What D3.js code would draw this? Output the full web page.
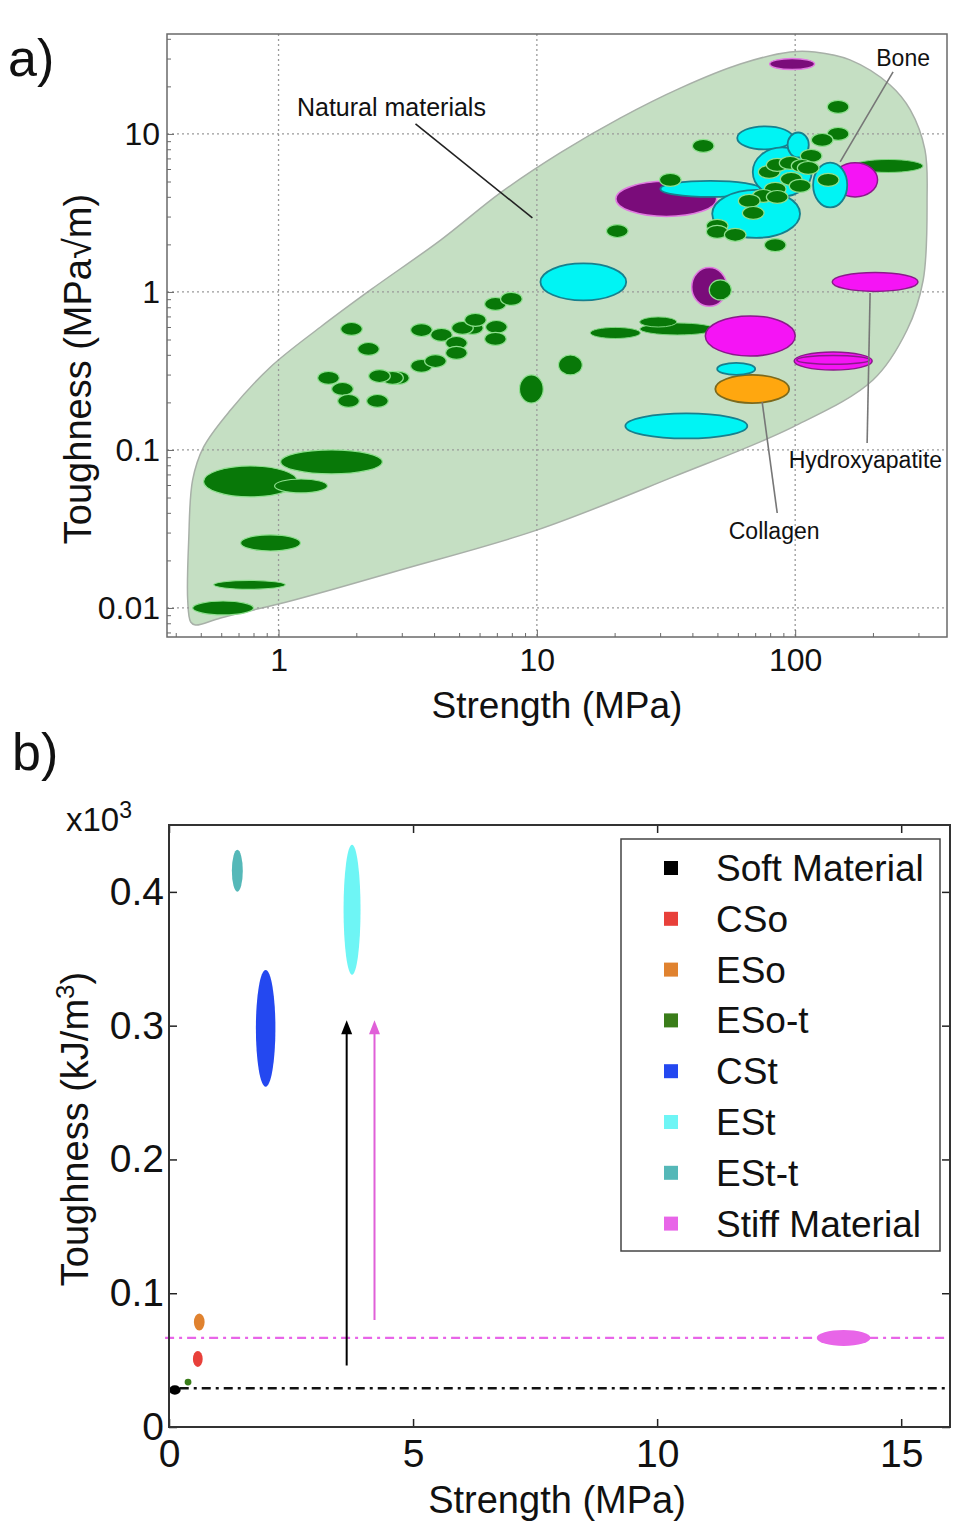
<!DOCTYPE html>
<html>
<head>
<meta charset="utf-8">
<script src="https://cdn.jsdelivr.net/npm/d3@7"></script>
<style>
  body { margin: 0; background: #fff; }
  svg { display: block; font-family: "Liberation Sans", Arial, sans-serif; }
</style>
</head>
<body>
<div id="chart"></div>
<script>
// ---------- panel a: Ashby map (log-log) ----------
const xTicksA = [1, 10, 100];
const yTicksA = [0.01, 0.1, 1, 10];

// outline of the "Natural materials" region [strength, toughness]
const envelope = [
  [0.457, 0.00815], [0.445, 0.0112], [0.449, 0.0269], [0.465, 0.0646], [0.513, 0.1045],
  [0.652, 0.179], [0.931, 0.335], [1.454, 0.600], [2.27, 1.03], [4.24, 2.13],
  [7.22, 4.24], [12.3, 7.59], [21.0, 12.6], [35.9, 19.5], [61.3, 27.7],
  [95.6, 33.0], [119, 33.0], [163, 29.4], [233, 20.4], [279, 14.2],
  [318, 7.92], [324, 3.82], [313, 1.19], [271, 0.574], [200, 0.277],
  [98.2, 0.140], [33.7, 0.0675], [10.05, 0.0312], [2.96, 0.0174], [1.14, 0.0112],
  [0.597, 0.00865], [0.477, 0.0078]
];

// bubbles: [strength MPa, toughness MPa√m, half-width (decades), half-height (decades)]
const greenLow = [
  [229, 6.27, 0.135, 0.041],
  [34.96, 0.583, 0.145, 0.038],
  [29.5, 0.6457, 0.072, 0.032],
  [20.12, 0.5501, 0.097, 0.035]
];
const purpleBubbles = [
  [97.3, 27.7, 0.087, 0.035],
  [31.7, 3.88, 0.195, 0.111],
  [46.5, 1.076, 0.068, 0.123]
];
const magentaBubbles = [
  [170.6, 5.12, 0.087, 0.108],
  [203.9, 1.157, 0.166, 0.060],
  [67.0, 0.5266, 0.174, 0.127],
  [140.3, 0.3655, 0.151, 0.057],
  [140.3, 0.3713, 0.141, 0.028]
];
const cyanBubbles = [
  [76.5, 9.44, 0.108, 0.073],
  [46.9, 4.49, 0.193, 0.051],
  [70.6, 3.12, 0.170, 0.152],
  [89.1, 5.75, 0.114, 0.155],
  [102.7, 8.51, 0.041, 0.079],
  [136.6, 4.75, 0.066, 0.142],
  [15.13, 1.157, 0.166, 0.117],
  [59.1, 0.3258, 0.0735, 0.038],
  [37.9, 0.1419, 0.236, 0.079]
];
const orangeBubbles = [
  [68.2, 0.2432, 0.143, 0.089]
];
const greenBubbles = [
  [0.610, 0.0100, 0.118, 0.044],
  [0.772, 0.0140, 0.139, 0.028],
  [0.931, 0.0258, 0.116, 0.051],
  [0.779, 0.0632, 0.182, 0.098],
  [1.222, 0.0592, 0.1025, 0.044],
  [1.603, 0.0840, 0.197, 0.076],
  [1.916, 0.583, 0.042, 0.041], [2.229, 0.4355, 0.042, 0.041], [1.561, 0.2858, 0.042, 0.041],
  [1.768, 0.2432, 0.042, 0.041], [1.866, 0.2042, 0.042, 0.041], [2.415, 0.2042, 0.042, 0.041],
  [2.912, 0.2858, 0.042, 0.041], [2.761, 0.2858, 0.042, 0.041], [2.459, 0.2937, 0.042, 0.041],
  [3.574, 0.574, 0.042, 0.041], [4.272, 0.5346, 0.042, 0.041], [5.630, 0.5916, 0.042, 0.041],
  [5.150, 0.5916, 0.042, 0.041], [5.782, 0.6653, 0.042, 0.041], [4.882, 0.4753, 0.042, 0.041],
  [4.882, 0.4113, 0.042, 0.041], [3.574, 0.3404, 0.042, 0.041], [4.050, 0.3655, 0.042, 0.041],
  [6.911, 0.8395, 0.042, 0.041], [7.968, 0.9036, 0.042, 0.041], [6.972, 0.600, 0.042, 0.041],
  [6.911, 0.5042, 0.042, 0.041], [9.52, 0.2432, 0.046, 0.089], [13.48, 0.345, 0.046, 0.063],
  [51.3, 1.03, 0.043, 0.063],
  [146.6, 14.82, 0.042, 0.041], [146.6, 10.0, 0.042, 0.041], [127.2, 9.16, 0.042, 0.041],
  [44.06, 8.40, 0.042, 0.041], [134.2, 5.12, 0.042, 0.041], [32.85, 5.12, 0.042, 0.041],
  [20.48, 2.43, 0.042, 0.041], [83.7, 1.98, 0.042, 0.041],
  [115.3, 7.26, 0.042, 0.041], [79.3, 5.75, 0.042, 0.041], [85.2, 6.37, 0.042, 0.041],
  [95.6, 6.55, 0.042, 0.041], [106.4, 6.27, 0.042, 0.041], [112.3, 6.09, 0.042, 0.041],
  [96.5, 5.19, 0.042, 0.041], [104.5, 4.69, 0.042, 0.041], [83.7, 4.49, 0.042, 0.041],
  [75.2, 4.05, 0.042, 0.041], [85.2, 3.99, 0.042, 0.041], [66.4, 3.77, 0.042, 0.041],
  [68.8, 3.16, 0.042, 0.041], [49.9, 2.62, 0.042, 0.041], [49.9, 2.40, 0.042, 0.041],
  [58.6, 2.30, 0.042, 0.041]
];

// annotations: [text, label x, label y, line from (s,t), line to (s,t), font px] in data units
const annotations = [
  ["Natural materials", 2.735, 13.0, [3.39, 11.56], [9.61, 2.94], 25],
  ["Bone", 261.8, 26.9, [239.3, 24.7], [149.3, 6.65], 23],
  ["Hydroxyapatite", 187, 0.0769, [195, 0.9856], [189.9, 0.1106], 23],
  ["Collagen", 82.9, 0.02735, [74.5, 0.2014], [85.2, 0.0399], 23]
];

// ---------- panel b: strength vs toughness (linear) ----------
const xTicksB = [0, 5, 10, 15];
const yTicksB = [0, 0.1, 0.2, 0.3, 0.4];
const categoriesB = ["Soft Material", "CSo", "ESo", "ESo-t", "CSt", "ESt", "ESt-t", "Stiff Material"];
const colorsB = ["#000000", "#e8403a", "#e0822f", "#3a7d1a", "#2448f0", "#6ef5f5", "#55b8b8", "#e865e8"];
// [strength MPa, toughness x10^3 kJ/m^3, half-width, half-height]
const ellipsesB = [
  [0.12, 0.0277, 0.12, 0.0035],
  [0.59, 0.0509, 0.10, 0.006],
  [0.62, 0.0785, 0.11, 0.0064],
  [0.39, 0.0336, 0.07, 0.0025],
  [1.98, 0.298, 0.20, 0.0437],
  [3.75, 0.3867, 0.174, 0.0486],
  [1.40, 0.4158, 0.112, 0.0157],
  [13.82, 0.0666, 0.55, 0.006]
];
const refLines = [
  { y: 0.029, from: 0.22, to: 16, color: "#111", width: 2.6 },
  { y: 0.0666, from: -0.08, to: 16, color: "#e865e8", width: 2.4 }
];
const arrowsB = [
  { x: 3.64, from: 0.046, to: 0.304, color: "#000" },
  { x: 4.21, from: 0.080, to: 0.304, color: "#e060d8" }
];

const W = 973, H = 1533;
const svg = d3.select("#chart").append("svg").attr("width", W).attr("height", H);

// ================= panel a =================
const xA = d3.scaleLog().domain([0.37, 387]).range([167, 947]);
const yA = d3.scaleLog().domain([0.00655, 42.9]).range([637, 34]);
const gA = svg.append("g");

gA.append("path")
  .datum(envelope)
  .attr("d", d3.line().x(d => xA(d[0])).y(d => yA(d[1])).curve(d3.curveCatmullRomClosed.alpha(0.5)))
  .attr("fill", "#c5dfc3")
  .attr("stroke", "#a8b0a8")
  .attr("stroke-width", 1.5);

// dotted grid
gA.selectAll("line.vgrid").data(xTicksA).enter().append("line")
  .attr("x1", d => xA(d)).attr("x2", d => xA(d))
  .attr("y1", yA.range()[1]).attr("y2", yA.range()[0])
  .attr("stroke", "#9a9a9a").attr("stroke-width", 1.3).attr("stroke-dasharray", "2 3");
gA.selectAll("line.hgrid").data(yTicksA).enter().append("line")
  .attr("y1", d => yA(d)).attr("y2", d => yA(d))
  .attr("x1", xA.range()[0]).attr("x2", xA.range()[1])
  .attr("stroke", "#9a9a9a").attr("stroke-width", 1.3).attr("stroke-dasharray", "2 3");

function drawBubbles(data, fill, stroke, sw) {
  gA.append("g").selectAll("ellipse").data(data).enter().append("ellipse")
    .attr("cx", d => xA(d[0]))
    .attr("cy", d => yA(d[1]))
    .attr("rx", d => xA(d[0] * Math.pow(10, d[2])) - xA(d[0]))
    .attr("ry", d => yA(d[1]) - yA(d[1] * Math.pow(10, d[3])))
    .attr("fill", fill)
    .attr("stroke", stroke)
    .attr("stroke-width", sw);
}
drawBubbles(greenLow, "#087808", "#7fd67f", 1);
drawBubbles(purpleBubbles, "#7a0c7a", "#e07ae0", 1.5);
drawBubbles(magentaBubbles, "#f514f5", "#8a1a8a", 1.5);
drawBubbles(orangeBubbles, "#ffa70f", "#7d6a1c", 1.8);
drawBubbles(cyanBubbles, "#00f4f4", "#17808e", 1.8);
drawBubbles(greenBubbles, "#087808", "#8fe08f", 1.2);

// frame
gA.append("rect")
  .attr("x", 167).attr("y", 34).attr("width", 780).attr("height", 603)
  .attr("fill", "none").attr("stroke", "#6a6a6a").attr("stroke-width", 1.5);

// minor ticks
const minorX = [];
[0.1, 1, 10, 100].forEach(dec => { for (let k = 2; k <= 9; k++) { const v = dec * k; if (v > 0.37 && v < 387 && v !== 1 && v !== 10 && v !== 100) minorX.push(v); } });
const minorY = [];
[0.001, 0.01, 0.1, 1, 10].forEach(dec => { for (let k = 2; k <= 9; k++) { const v = dec * k; if (v > 0.00655 && v < 42.9) minorY.push(v); } });

gA.append("g")
  .attr("transform", "translate(0,637)")
  .call(d3.axisBottom(xA).tickValues(minorX).tickSize(-4).tickFormat(""))
  .call(g => g.select(".domain").remove())
  .selectAll("line").attr("stroke", "#6a6a6a");
gA.append("g")
  .attr("transform", "translate(167,0)")
  .call(d3.axisLeft(yA).tickValues(minorY).tickSize(-4).tickFormat(""))
  .call(g => g.select(".domain").remove())
  .selectAll("line").attr("stroke", "#6a6a6a");

gA.append("g")
  .attr("transform", "translate(0,637)")
  .call(d3.axisBottom(xA).tickValues(xTicksA).tickSize(-7).tickPadding(11).tickFormat(d => String(d)))
  .call(g => g.select(".domain").remove())
  .call(g => g.selectAll("line").attr("stroke", "#6a6a6a"))
  .selectAll("text").style("font-size", "32px").attr("fill", "#111");
gA.append("g")
  .attr("transform", "translate(167,0)")
  .call(d3.axisLeft(yA).tickValues(yTicksA).tickSize(-7).tickPadding(7).tickFormat(d => String(d)))
  .call(g => g.select(".domain").remove())
  .call(g => g.selectAll("line").attr("stroke", "#6a6a6a"))
  .selectAll("text").style("font-size", "32px").attr("fill", "#111");

// annotations
annotations.forEach(a => {
  gA.append("line")
    .attr("x1", xA(a[3][0])).attr("y1", yA(a[3][1]))
    .attr("x2", xA(a[4][0])).attr("y2", yA(a[4][1]))
    .attr("stroke", a[0] === "Natural materials" ? "#222" : "#777")
    .attr("stroke-width", 1.6);
  gA.append("text")
    .attr("x", xA(a[1])).attr("y", yA(a[2]))
    .attr("text-anchor", "middle")
    .style("font-size", a[5] + "px").attr("fill", "#111")
    .text(a[0]);
});

svg.append("text").attr("x", 557).attr("y", 718).attr("text-anchor", "middle")
  .style("font-size", "37px").attr("fill", "#111").text("Strength (MPa)");
svg.append("text").attr("transform", "translate(91,369) rotate(-90)").attr("text-anchor", "middle")
  .style("font-size", "38px").attr("fill", "#111").text("Toughness (MPa√m)");
svg.append("text").attr("x", 8).attr("y", 76).style("font-size", "52px").attr("fill", "#111").text("a)");

// ================= panel b =================
const xB = d3.scaleLinear().domain([0, 16]).range([169, 950]);
const yB = d3.scaleLinear().domain([0, 0.45]).range([1427, 825]);
const gB = svg.append("g");

refLines.forEach(r => {
  gB.append("line")
    .attr("x1", xB(r.from)).attr("x2", xB(r.to))
    .attr("y1", yB(r.y)).attr("y2", yB(r.y))
    .attr("stroke", r.color).attr("stroke-width", r.width)
    .attr("stroke-dasharray", "9 5 3 5");
});

gB.selectAll("ellipse").data(ellipsesB).enter().append("ellipse")
  .attr("cx", d => xB(d[0]))
  .attr("cy", d => yB(d[1]))
  .attr("rx", d => xB(d[0] + d[2]) - xB(d[0]))
  .attr("ry", d => yB(d[1]) - yB(d[1] + d[3]))
  .attr("fill", (d, i) => colorsB[i]);

arrowsB.forEach(a => {
  gB.append("line")
    .attr("x1", xB(a.x)).attr("x2", xB(a.x))
    .attr("y1", yB(a.from)).attr("y2", yB(a.to) + 12)
    .attr("stroke", a.color).attr("stroke-width", 2);
  const tipX = xB(a.x), tipY = yB(a.to);
  gB.append("path")
    .attr("d", `M${tipX},${tipY} L${tipX - 5.5},${tipY + 14} L${tipX + 5.5},${tipY + 14} Z`)
    .attr("fill", a.color);
});

// axes with inward ticks on all sides
gB.append("g").attr("transform", "translate(0,1427)")
  .call(d3.axisBottom(xB).tickValues(xTicksB).tickSize(-8).tickPadding(12).tickFormat(d3.format("d")))
  .call(g => g.select(".domain").remove())
  .selectAll("text").style("font-size", "39px").attr("fill", "#111");
gB.append("g").attr("transform", "translate(0,825)")
  .call(d3.axisTop(xB).tickValues(xTicksB).tickSize(-8).tickFormat(""))
  .call(g => g.select(".domain").remove());
gB.append("g").attr("transform", "translate(169,0)")
  .call(d3.axisLeft(yB).tickValues(yTicksB).tickSize(-8).tickPadding(5).tickFormat(d => d === 0 ? "0" : d3.format(".1f")(d)))
  .call(g => g.select(".domain").remove())
  .selectAll("text").style("font-size", "39px").attr("fill", "#111");
gB.append("g").attr("transform", "translate(950,0)")
  .call(d3.axisRight(yB).tickValues(yTicksB).tickSize(-8).tickFormat(""))
  .call(g => g.select(".domain").remove());
gB.selectAll(".tick line").attr("stroke", "#222").attr("stroke-width", 1.5);

gB.append("rect")
  .attr("x", 169).attr("y", 825).attr("width", 781).attr("height", 602)
  .attr("fill", "none").attr("stroke", "#333").attr("stroke-width", 2);

// legend
const legend = gB.append("g").attr("transform", "translate(621,839)");
legend.append("rect").attr("width", 319).attr("height", 412)
  .attr("fill", "#fff").attr("stroke", "#444").attr("stroke-width", 1.5);
const rows = legend.selectAll("g.row").data(categoriesB).enter().append("g")
  .attr("transform", (d, i) => `translate(0,${29 + i * 50.8})`);
rows.append("rect").attr("x", 43).attr("y", -7).attr("width", 14).attr("height", 14)
  .attr("fill", (d, i) => colorsB[i]);
rows.append("text").attr("x", 95).attr("y", 13)
  .style("font-size", "37px").attr("fill", "#111").text(d => d);

svg.append("text").attr("x", 557).attr("y", 1513).attr("text-anchor", "middle")
  .style("font-size", "38px").attr("fill", "#111").text("Strength (MPa)");
const yTitle = svg.append("text").attr("transform", "translate(88,1129) rotate(-90)")
  .attr("text-anchor", "middle").style("font-size", "38px").attr("fill", "#111");
yTitle.append("tspan").text("Toughness (kJ/m");
yTitle.append("tspan").attr("dy", -14).style("font-size", "26px").text("3");
yTitle.append("tspan").attr("dy", 14).text(")");

const x10 = svg.append("text").attr("x", 66).attr("y", 831).style("font-size", "33px").attr("fill", "#111");
x10.append("tspan").text("x10");
x10.append("tspan").attr("dy", -13).style("font-size", "23px").text("3");

svg.append("text").attr("x", 12).attr("y", 770).style("font-size", "52px").attr("fill", "#111").text("b)");
</script>
</body>
</html>
